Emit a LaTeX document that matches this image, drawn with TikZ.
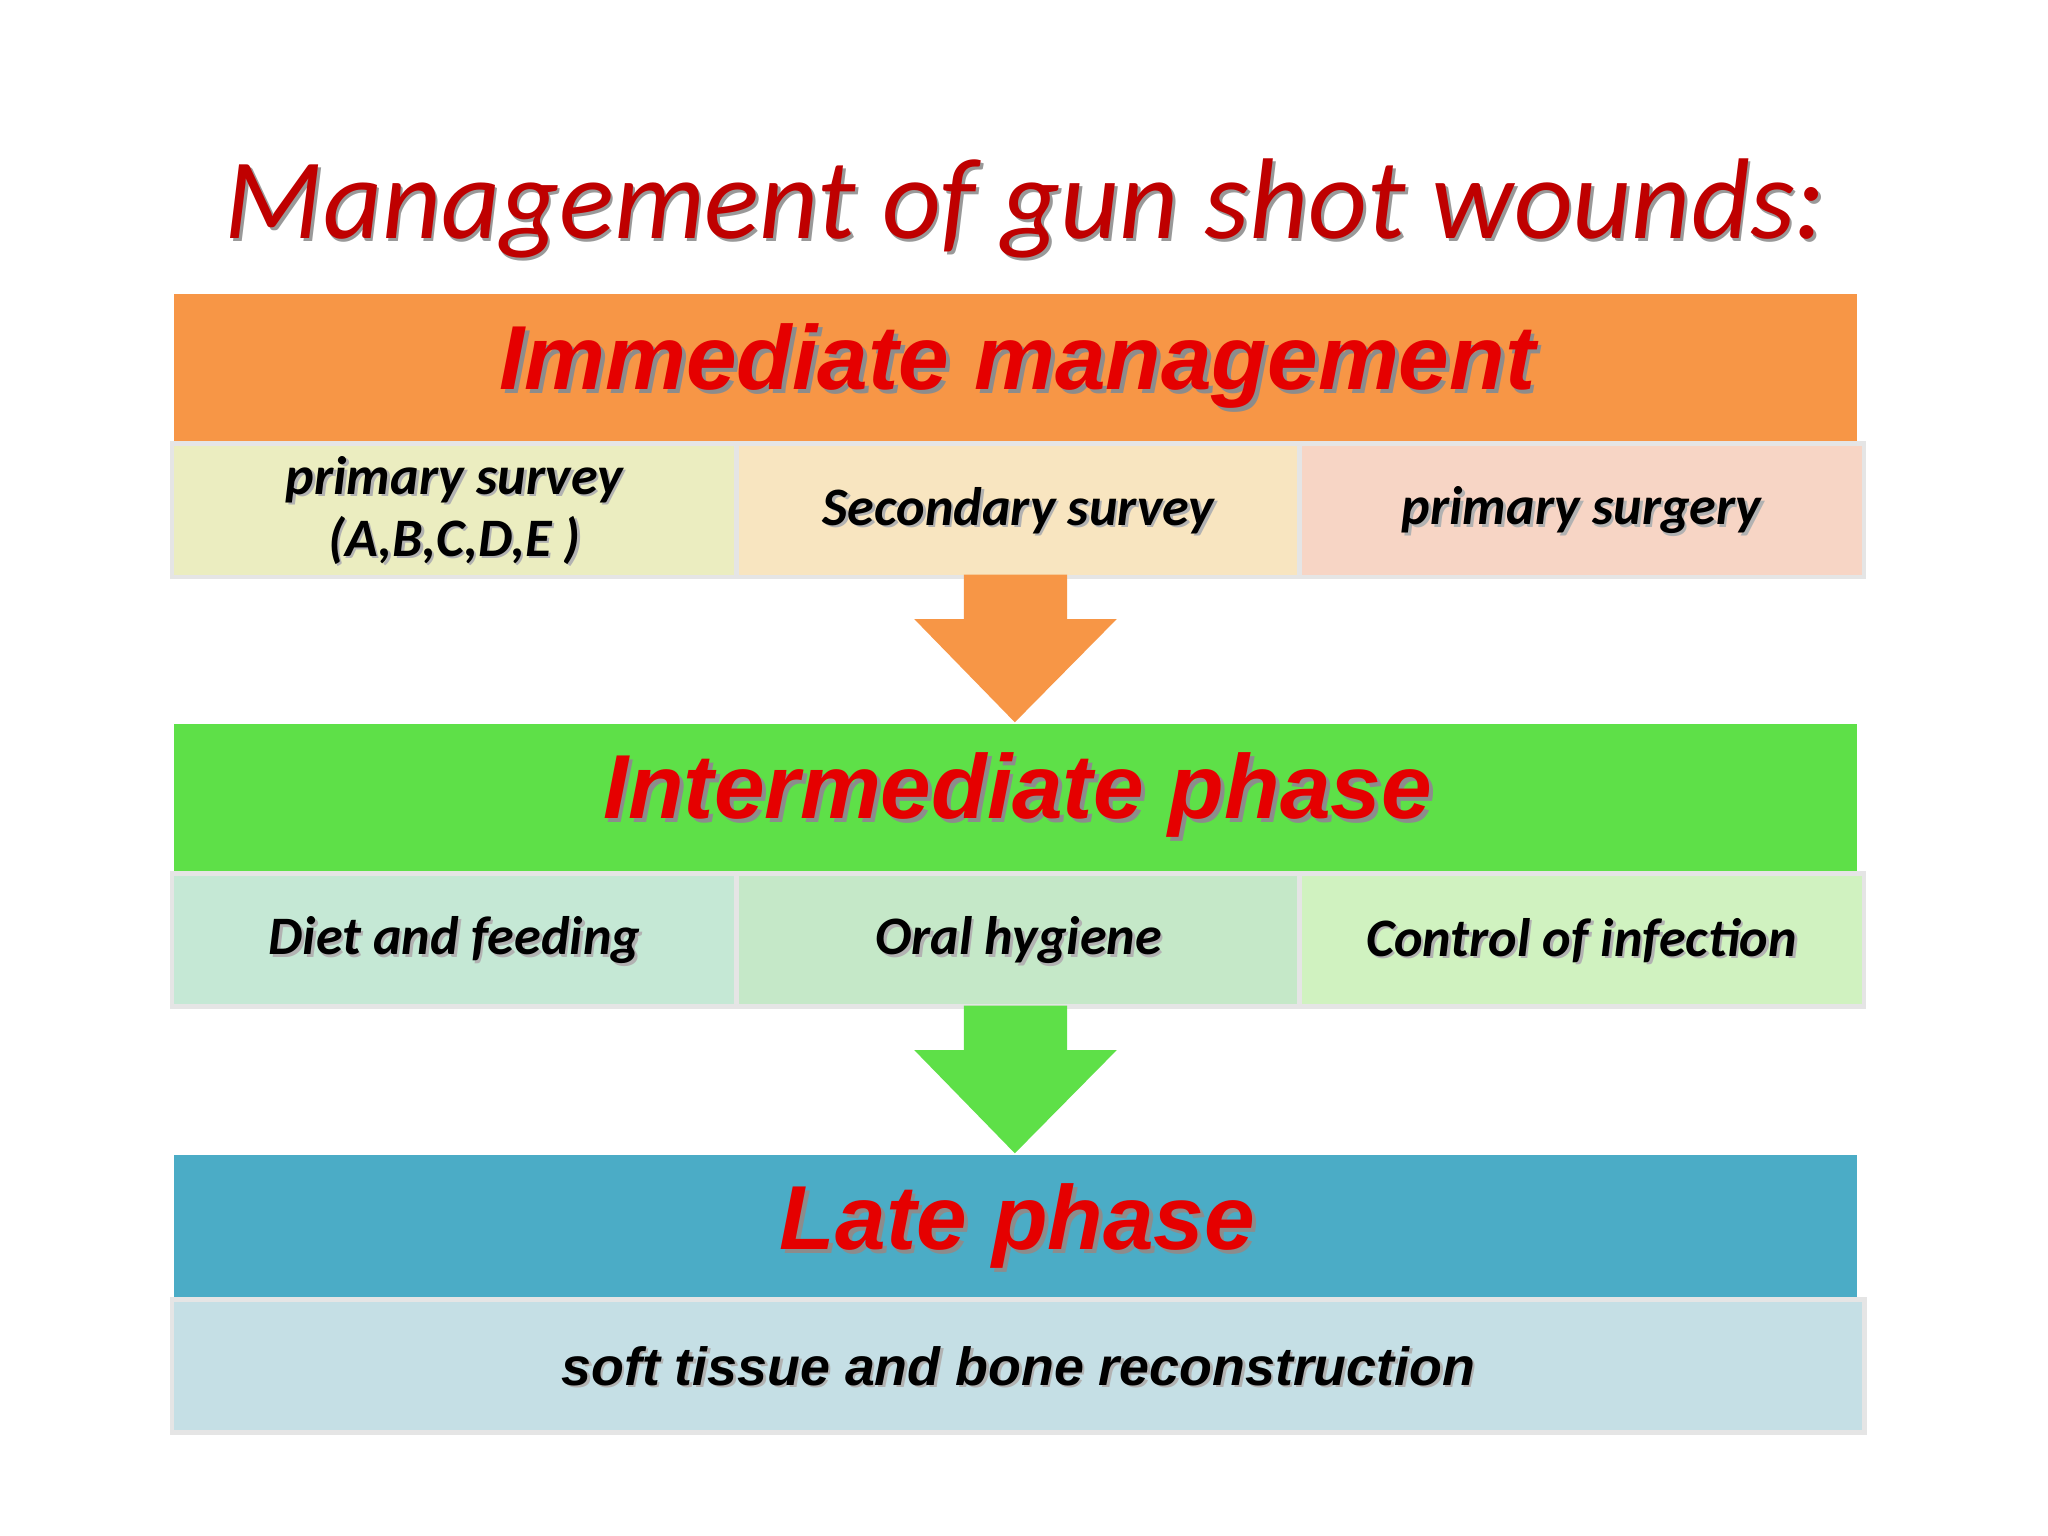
\documentclass[tikz,border=0pt]{standalone}
\usepackage{fontspec}
\setmainfont{Carlito}
\newfontfamily\headfont{Liberation Sans}
\begin{document}
\begin{tikzpicture}[x=0.01cm,y=-0.01cm,
  cell/.style={draw=black!10,line width=1pt,inner sep=0pt,anchor=north west,minimum width=4.32cm,minimum height=1.02cm},
  sub/.style={font=\fontsize{11.8}{13.5}\selectfont\bfseries\itshape,align=center},
  head/.style={font=\headfont\fontsize{19.8}{23}\selectfont\bfseries\itshape,text=red!90!black}]
\definecolor{orangeb}{HTML}{F79646}
\definecolor{greenb}{HTML}{5EE048}
\definecolor{blueb}{HTML}{4BACC6}
\useasboundingbox (0,0) rectangle (1568,1176);
\fill[white] (0,0) rectangle (1568,1176);
% title
\node[font=\fontsize{25}{30}\selectfont\itshape,text=black!40] at (787,162) {Management of gun shot wounds:};
\node[font=\fontsize{25}{30}\selectfont\itshape,text=red!75!black] (title) at (785,160) {Management of gun shot wounds:};
% bars
\fill[orangeb] (133,225) rectangle (1422,338);
\fill[greenb] (133,554) rectangle (1422,667);
\fill[blueb] (133,884) rectangle (1422,993);
\coordinate (b1) at (779,280);
\coordinate (b2) at (779,609);
\coordinate (b3) at (779,939);
\foreach \c/\t in {b1/Immediate management,b2/Intermediate phase,b3/Late phase}{
  \node[head,text=black!45] at ([shift={(3,3)}]\c) {\t};
  \node[head] at (\c) {\t};}
% rows
\node[cell,fill={rgb,255:red,235;green,237;blue,192}] (c11) at (130,338) {};
\node[cell,fill={rgb,255:red,248;green,229;blue,192}] (c12) at (562,338) {};
\node[cell,fill={rgb,255:red,247;green,213;blue,197}] (c13) at (993,338) {};
\node[cell,fill={rgb,255:red,197;green,232;blue,213}] (c21) at (130,667) {};
\node[cell,fill={rgb,255:red,197;green,232;blue,200}] (c22) at (562,667) {};
\node[cell,fill={rgb,255:red,208;green,242;blue,192}] (c23) at (993,667) {};
\node[cell,minimum width=12.95cm,fill={rgb,255:red,197;green,223;blue,229}] (c31) at (130,993) {};
\foreach \c/\t in {c11/{primary survey\\(A,B,C,D,E )},c12/Secondary survey,c13/primary surgery,c21/Diet and feeding,c22/Oral hygiene,c23/Control of infection}{
  \node[sub,text=black!30] at ([shift={(2,2)}]\c.center) {\t};
  \node[sub] at (\c.center) {\t};}
\node[sub,font=\headfont\fontsize{11.7}{14}\selectfont\bfseries\itshape,text=black!30] at ([shift={(2,2)}]c31.center) {soft tissue and bone reconstruction};
\node[sub,font=\headfont\fontsize{11.7}{14}\selectfont\bfseries\itshape] at (c31.center) {soft tissue and bone reconstruction};
% arrows
\fill[orangeb] (738,440) -- (817,440) -- (817,474) -- (855,474) -- (777,553) -- (700,474) -- (738,474) -- cycle;
\fill[greenb] (738,770) -- (817,770) -- (817,804) -- (855,804) -- (777,883) -- (700,804) -- (738,804) -- cycle;
\end{tikzpicture}
\end{document}
